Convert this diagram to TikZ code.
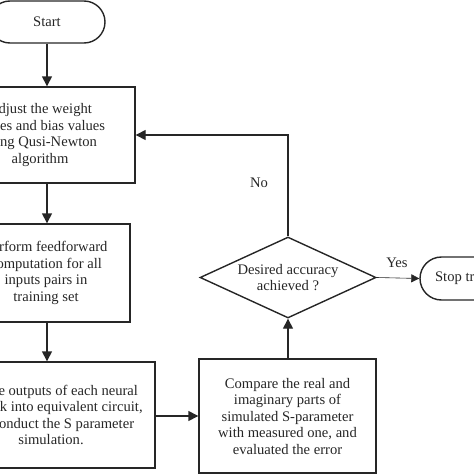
\documentclass[tikz,border=0pt]{standalone}
\usepackage{fontspec}
\setmainfont{Liberation Serif}
\usetikzlibrary{shapes.geometric,shapes.misc,arrows.meta}
\tikzset{
  every node/.style={font=\fontsize{14.6}{16.5}\selectfont, text=black!85},
  procbox/.style={draw=black!85, line width=1.4pt, rectangle, align=center, inner sep=0pt},
  termbox/.style={draw=black!85, line width=1.4pt, rounded rectangle, inner sep=0pt},
  decbox/.style={draw=black!85, line width=1.4pt, diamond, aspect=2.17, align=center, inner sep=0pt},
  flow/.style={draw=black!85, line width=1.4pt, -{Triangle[length=10pt,width=10pt]}},
  thinflow/.style={draw=black!85, line width=0.6pt, -{Triangle[length=8pt,width=8pt]}}
}
\begin{document}
\begin{tikzpicture}[x=1pt,y=-1pt]
\useasboundingbox (0,0) rectangle (474,474);
\clip (0,0) rectangle (474,474);
\node[termbox, minimum width=116pt, minimum height=42pt] (start) at (47,22) {Start};
\node[procbox, minimum width=190pt, minimum height=96pt] (adj) at (40,135)
  {Adjust the weight\\values and bias values\\using Qusi-Newton\\algorithm};
\node[procbox, minimum width=168pt, minimum height=98pt] (ff) at (46,273)
  {Perform feedforward\\computation for all\\inputs pairs in\\training set};
\node[procbox, minimum width=208pt, minimum height=106pt] (sim) at (51,415)
  {Put the outputs of each neural\\network into equivalent circuit,\\and conduct the S parameter\\simulation.};
\node[procbox, minimum width=177pt, minimum height=114pt] (cmp) at (287.5,416)
  {Compare the real and\\imaginary parts of\\simulated S-parameter\\with measured one, and\\evaluated the error};
\node[decbox, minimum width=176pt, minimum height=81pt] (dec) at (288,277.5)
  {Desired accuracy\\achieved ?};
\node[termbox, minimum width=106pt, minimum height=43pt] (stop) at (473,278.5) {Stop training};
\coordinate (trunk) at (47,0);
\draw[flow] (start.south -| trunk) -- (adj.north -| trunk);
\draw[flow] (adj.south -| trunk) -- (ff.north -| trunk);
\draw[flow] (ff.south -| trunk) -- (sim.north -| trunk);
\draw[flow] (sim.east |- cmp.west) -- (cmp.west);
\draw[flow] (cmp.north -| dec.south) -- (dec.south);
\draw[flow] (dec.north) |- (adj.east);
\draw[thinflow] (dec.east) -- (stop.west);
\node (no) at (259,183) {No};
\node (yes) at (397,263) {Yes};
\end{tikzpicture}
\end{document}
